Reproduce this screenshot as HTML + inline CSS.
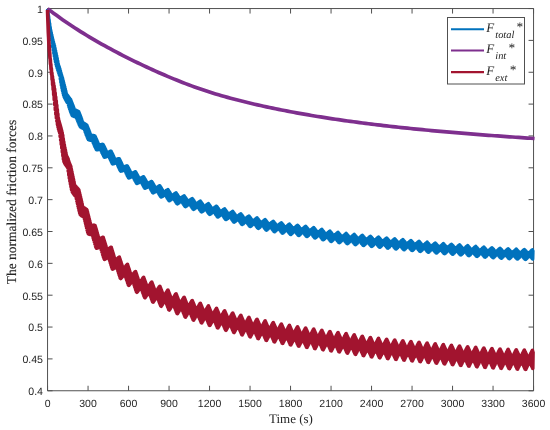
<!DOCTYPE html><html><head><meta charset="utf-8"><title>The normalized friction forces</title><style>html,body{margin:0;padding:0;background:#fff}svg{display:block}text{font-family:"Liberation Sans",Arial,sans-serif;fill:#262626;text-rendering:geometricPrecision}.s{font-family:"Liberation Serif","Times New Roman",serif}</style></head><body>
<svg width="550" height="430" viewBox="0 0 550 430">
<rect width="550" height="430" fill="#fff"/>
<path d="M47.55 8.55 H533.55 V390.75 H47.55 Z M47.55 390.75 v-5.0 M47.55 8.55 v5.0 M88.05 390.75 v-5.0 M88.05 8.55 v5.0 M128.55 390.75 v-5.0 M128.55 8.55 v5.0 M169.05 390.75 v-5.0 M169.05 8.55 v5.0 M209.55 390.75 v-5.0 M209.55 8.55 v5.0 M250.05 390.75 v-5.0 M250.05 8.55 v5.0 M290.55 390.75 v-5.0 M290.55 8.55 v5.0 M331.05 390.75 v-5.0 M331.05 8.55 v5.0 M371.55 390.75 v-5.0 M371.55 8.55 v5.0 M412.05 390.75 v-5.0 M412.05 8.55 v5.0 M452.55 390.75 v-5.0 M452.55 8.55 v5.0 M493.05 390.75 v-5.0 M493.05 8.55 v5.0 M533.55 390.75 v-5.0 M533.55 8.55 v5.0 M47.55 8.55 h5.0 M533.55 8.55 h-5.0 M47.55 40.40 h5.0 M533.55 40.40 h-5.0 M47.55 72.25 h5.0 M533.55 72.25 h-5.0 M47.55 104.10 h5.0 M533.55 104.10 h-5.0 M47.55 135.95 h5.0 M533.55 135.95 h-5.0 M47.55 167.80 h5.0 M533.55 167.80 h-5.0 M47.55 199.65 h5.0 M533.55 199.65 h-5.0 M47.55 231.50 h5.0 M533.55 231.50 h-5.0 M47.55 263.35 h5.0 M533.55 263.35 h-5.0 M47.55 295.20 h5.0 M533.55 295.20 h-5.0 M47.55 327.05 h5.0 M533.55 327.05 h-5.0 M47.55 358.90 h5.0 M533.55 358.90 h-5.0 M47.55 390.75 h5.0 M533.55 390.75 h-5.0" fill="none" stroke="#505050" stroke-width="1"/>
<text x="47.55" y="407.3" font-size="10.5" text-anchor="middle">0</text>
<text x="88.05" y="407.3" font-size="10.5" text-anchor="middle">300</text>
<text x="128.55" y="407.3" font-size="10.5" text-anchor="middle">600</text>
<text x="169.05" y="407.3" font-size="10.5" text-anchor="middle">900</text>
<text x="209.55" y="407.3" font-size="10.5" text-anchor="middle">1200</text>
<text x="250.05" y="407.3" font-size="10.5" text-anchor="middle">1500</text>
<text x="290.55" y="407.3" font-size="10.5" text-anchor="middle">1800</text>
<text x="331.05" y="407.3" font-size="10.5" text-anchor="middle">2100</text>
<text x="371.55" y="407.3" font-size="10.5" text-anchor="middle">2400</text>
<text x="412.05" y="407.3" font-size="10.5" text-anchor="middle">2700</text>
<text x="452.55" y="407.3" font-size="10.5" text-anchor="middle">3000</text>
<text x="493.05" y="407.3" font-size="10.5" text-anchor="middle">3300</text>
<text x="533.55" y="407.3" font-size="10.5" text-anchor="middle">3600</text>
<text x="43.0" y="12.85" font-size="10.6" text-anchor="end">1</text>
<text x="43.0" y="44.70" font-size="10.6" text-anchor="end">0.95</text>
<text x="43.0" y="76.55" font-size="10.6" text-anchor="end">0.9</text>
<text x="43.0" y="108.40" font-size="10.6" text-anchor="end">0.85</text>
<text x="43.0" y="140.25" font-size="10.6" text-anchor="end">0.8</text>
<text x="43.0" y="172.10" font-size="10.6" text-anchor="end">0.75</text>
<text x="43.0" y="203.95" font-size="10.6" text-anchor="end">0.7</text>
<text x="43.0" y="235.80" font-size="10.6" text-anchor="end">0.65</text>
<text x="43.0" y="267.65" font-size="10.6" text-anchor="end">0.6</text>
<text x="43.0" y="299.50" font-size="10.6" text-anchor="end">0.55</text>
<text x="43.0" y="331.35" font-size="10.6" text-anchor="end">0.5</text>
<text x="43.0" y="363.20" font-size="10.6" text-anchor="end">0.45</text>
<text x="43.0" y="395.05" font-size="10.6" text-anchor="end">0.4</text>
<text class="s" x="290.9" y="423.2" font-size="13" text-anchor="middle">Time (s)</text>
<text class="s" transform="translate(15.7 202) rotate(-90)" font-size="13.5" text-anchor="middle" stroke="#262626" stroke-width="0.15">The normalized friction forces</text>
<path d="M47.55 8.89 L47.82 11.00 L48.09 12.52 L48.36 15.16 L48.63 16.15 L48.90 19.39 L49.17 19.78 L49.44 23.88 L49.71 23.41 L49.98 28.16 L50.25 27.07 L50.52 32.20 L50.79 30.08 L51.06 35.92 L51.33 32.45 L51.60 39.15 L51.87 34.86 L52.14 43.16 L52.41 37.27 L52.68 47.08 L52.95 39.52 L53.22 50.40 L53.49 41.62 L53.76 53.49 L54.03 43.59 L54.30 56.43 L54.57 45.55 L54.84 59.25 L55.11 48.09 L55.38 61.99 L55.65 50.59 L55.92 64.34 L56.19 53.08 L56.46 66.17 L56.73 55.59 L57.00 67.95 L57.27 58.15 L57.54 69.68 L57.81 60.82 L58.08 71.38 L58.35 63.71 L58.62 73.05 L58.89 65.63 L59.16 74.68 L59.43 67.10 L59.70 76.06 L59.97 68.87 L60.24 79.31 L60.51 70.83 L60.78 82.49 L61.05 72.83 L61.32 85.49 L61.59 74.74 L61.86 88.25 L62.13 76.45 L62.40 90.72 L62.67 78.09 L62.94 93.00 L63.21 80.32 L63.48 95.12 L63.75 82.45 L64.02 96.79 L64.29 84.54 L64.56 97.94 L64.83 86.65 L65.10 99.04 L65.37 88.78 L65.64 100.08 L65.91 90.97 L66.18 101.04 L66.45 93.29 L66.72 101.90 L66.99 94.53 L67.26 102.62 L67.53 95.22 L67.80 102.99 L68.07 95.99 L68.34 105.07 L68.61 96.75 L68.88 106.97 L69.15 97.48 L69.42 108.69 L69.69 98.17 L69.96 110.29 L70.23 98.80 L70.50 111.78 L70.77 99.51 L71.04 113.20 L71.31 100.92 L71.58 114.55 L71.85 102.31 L72.12 115.49 L72.39 103.69 L72.66 115.87 L72.93 105.08 L73.20 116.19 L73.47 106.50 L73.74 116.46 L74.01 107.97 L74.28 116.66 L74.55 109.62 L74.82 116.78 L75.09 110.15 L75.36 116.78 L75.63 110.13 L75.90 116.47 L76.17 110.25 L76.44 118.03 L76.71 110.43 L76.98 119.47 L77.25 110.65 L77.52 120.81 L77.79 110.92 L78.06 122.10 L78.33 111.22 L78.60 123.36 L78.87 111.67 L79.14 124.63 L79.41 112.95 L79.68 125.89 L79.95 114.29 L80.22 126.80 L80.49 115.68 L80.76 127.17 L81.03 117.14 L81.30 127.54 L81.57 118.67 L81.84 127.88 L82.11 120.31 L82.38 128.19 L82.65 122.16 L82.92 128.44 L83.19 122.84 L83.46 128.59 L83.73 122.96 L84.00 128.40 L84.27 123.21 L84.54 130.20 L84.81 123.53 L85.08 131.86 L85.35 123.88 L85.62 133.39 L85.89 124.25 L86.16 134.84 L86.43 124.62 L86.70 136.22 L86.97 125.11 L87.24 137.55 L87.51 126.42 L87.78 138.83 L88.05 127.72 L88.32 139.67 L88.59 129.04 L88.86 139.89 L89.13 130.40 L89.40 140.08 L89.67 131.81 L89.94 140.23 L90.21 133.30 L90.48 140.32 L90.75 135.01 L91.02 140.33 L91.29 135.46 L91.56 140.22 L91.83 135.30 L92.10 139.75 L92.37 135.28 L92.64 141.37 L92.91 135.34 L93.18 142.85 L93.45 135.43 L93.72 144.20 L93.99 135.54 L94.26 145.48 L94.53 135.67 L94.80 146.70 L95.07 135.94 L95.34 147.88 L95.61 137.10 L95.88 149.03 L96.15 138.28 L96.42 149.73 L96.69 139.49 L96.96 149.79 L97.23 140.74 L97.50 149.81 L97.77 142.04 L98.04 149.77 L98.31 143.43 L98.58 149.68 L98.85 145.04 L99.12 149.50 L99.39 145.31 L99.66 149.19 L99.93 144.94 L100.20 148.50 L100.47 144.73 L100.74 150.02 L101.01 144.57 L101.28 151.38 L101.55 144.45 L101.82 152.60 L102.09 144.35 L102.36 153.73 L102.63 144.27 L102.90 154.81 L103.17 144.34 L103.44 155.84 L103.71 145.36 L103.98 156.84 L104.25 146.40 L104.52 157.38 L104.79 147.47 L105.06 157.24 L105.33 148.58 L105.60 157.07 L105.87 149.77 L106.14 156.85 L106.41 151.05 L106.68 156.59 L106.95 152.58 L107.22 156.24 L107.49 152.72 L107.76 155.77 L108.03 152.20 L108.30 154.93 L108.57 151.85 L108.84 156.43 L109.11 151.60 L109.38 157.79 L109.65 151.41 L109.92 159.02 L110.19 151.26 L110.46 160.20 L110.73 151.15 L111.00 161.33 L111.27 151.21 L111.54 162.42 L111.81 152.28 L112.08 163.48 L112.35 153.37 L112.62 164.06 L112.89 154.49 L113.16 163.97 L113.43 155.67 L113.70 163.84 L113.97 156.90 L114.24 163.69 L114.51 158.24 L114.78 163.48 L115.05 159.82 L115.32 163.21 L115.59 159.99 L115.86 162.81 L116.13 159.49 L116.40 162.04 L116.67 159.18 L116.94 163.61 L117.21 158.96 L117.48 165.01 L117.75 158.79 L118.02 166.27 L118.29 158.67 L118.56 167.45 L118.83 158.57 L119.10 168.57 L119.37 158.64 L119.64 169.65 L119.91 159.69 L120.18 170.69 L120.45 160.76 L120.72 171.27 L120.99 161.87 L121.26 171.17 L121.53 163.02 L121.80 171.06 L122.07 164.24 L122.34 170.90 L122.61 165.55 L122.88 170.71 L123.15 167.10 L123.42 170.44 L123.69 167.26 L123.96 170.04 L124.23 166.77 L124.50 169.28 L124.77 166.46 L125.04 170.81 L125.31 166.22 L125.58 172.17 L125.85 166.04 L126.12 173.39 L126.39 165.89 L126.66 174.53 L126.93 165.77 L127.20 175.60 L127.47 165.81 L127.74 176.63 L128.01 166.79 L128.28 177.61 L128.55 167.79 L128.82 178.12 L129.09 168.82 L129.36 177.95 L129.63 169.88 L129.90 177.76 L130.17 170.99 L130.44 177.53 L130.71 172.20 L130.98 177.24 L131.25 173.64 L131.52 176.88 L131.79 173.70 L132.06 176.40 L132.33 173.12 L132.60 175.54 L132.87 172.71 L133.14 176.95 L133.41 172.38 L133.68 178.21 L133.95 172.10 L134.22 179.32 L134.49 171.86 L134.76 180.35 L135.03 171.65 L135.30 181.32 L135.57 171.60 L135.84 182.26 L136.11 172.50 L136.38 183.16 L136.65 173.42 L136.92 183.59 L137.19 174.37 L137.46 183.38 L137.73 175.36 L138.00 183.13 L138.27 176.41 L138.54 182.84 L138.81 177.55 L139.08 182.50 L139.35 178.92 L139.62 182.10 L139.89 178.93 L140.16 181.57 L140.43 178.31 L140.70 180.68 L140.97 177.86 L141.24 182.04 L141.51 177.49 L141.78 183.24 L142.05 177.18 L142.32 184.31 L142.59 176.91 L142.86 185.30 L143.13 176.67 L143.40 186.24 L143.67 176.60 L143.94 187.13 L144.21 177.46 L144.48 188.00 L144.75 178.35 L145.02 188.42 L145.29 179.27 L145.56 188.18 L145.83 180.23 L146.10 187.92 L146.37 181.25 L146.64 187.62 L146.91 182.37 L147.18 187.27 L147.45 183.71 L147.72 186.86 L147.99 183.71 L148.26 186.32 L148.53 183.08 L148.80 185.43 L149.07 182.62 L149.34 186.76 L149.61 182.24 L149.88 187.94 L150.15 181.92 L150.42 188.98 L150.69 181.64 L150.96 189.95 L151.23 181.38 L151.50 190.86 L151.77 181.29 L152.04 191.74 L152.31 182.13 L152.58 192.59 L152.85 182.99 L153.12 192.98 L153.39 183.89 L153.66 192.73 L153.93 184.82 L154.20 192.45 L154.47 185.82 L154.74 192.13 L155.01 186.90 L155.28 191.77 L155.55 188.22 L155.82 191.33 L156.09 188.20 L156.36 190.78 L156.63 187.55 L156.90 189.87 L157.17 187.07 L157.44 191.17 L157.71 186.67 L157.98 192.32 L158.25 186.33 L158.52 193.33 L158.79 186.02 L159.06 194.27 L159.33 185.74 L159.60 195.15 L159.87 185.62 L160.14 196.00 L160.41 186.43 L160.68 196.81 L160.95 187.26 L161.22 197.18 L161.49 188.12 L161.76 196.90 L162.03 189.03 L162.30 196.59 L162.57 189.98 L162.84 196.25 L163.11 191.04 L163.38 195.86 L163.65 192.31 L163.92 195.39 L164.19 192.26 L164.46 194.81 L164.73 191.58 L165.00 193.88 L165.27 191.07 L165.54 195.14 L165.81 190.65 L166.08 196.25 L166.35 190.27 L166.62 197.22 L166.89 189.93 L167.16 198.12 L167.43 189.62 L167.70 198.97 L167.97 189.47 L168.24 199.77 L168.51 190.24 L168.78 200.55 L169.05 191.03 L169.32 200.87 L169.59 191.85 L169.86 200.56 L170.13 192.71 L170.40 200.22 L170.67 193.62 L170.94 199.84 L171.21 194.63 L171.48 199.41 L171.75 195.86 L172.02 198.91 L172.29 195.77 L172.56 198.30 L172.83 195.06 L173.10 197.33 L173.37 194.51 L173.64 198.54 L173.91 194.05 L174.18 199.61 L174.45 193.64 L174.72 200.54 L174.99 193.26 L175.26 201.40 L175.53 192.92 L175.80 202.21 L176.07 192.73 L176.34 202.98 L176.61 193.46 L176.88 203.71 L177.15 194.21 L177.42 204.01 L177.69 195.00 L177.96 203.66 L178.23 195.82 L178.50 203.29 L178.77 196.70 L179.04 202.89 L179.31 197.68 L179.58 202.43 L179.85 198.88 L180.12 201.91 L180.39 198.77 L180.66 201.27 L180.93 198.03 L181.20 200.28 L181.47 197.47 L181.74 201.47 L182.01 196.98 L182.28 202.51 L182.55 196.55 L182.82 203.42 L183.09 196.16 L183.36 204.26 L183.63 195.79 L183.90 205.05 L184.17 195.59 L184.44 205.80 L184.71 196.30 L184.98 206.52 L185.25 197.04 L185.52 206.79 L185.79 197.81 L186.06 206.44 L186.33 198.62 L186.60 206.06 L186.87 199.49 L187.14 205.64 L187.41 200.45 L187.68 205.18 L187.95 201.64 L188.22 204.65 L188.49 201.52 L188.76 204.01 L189.03 200.78 L189.30 203.02 L189.57 200.21 L189.84 204.20 L190.11 199.72 L190.38 205.24 L190.65 199.29 L190.92 206.15 L191.19 198.90 L191.46 206.98 L191.73 198.53 L192.00 207.76 L192.27 198.32 L192.54 208.50 L192.81 199.03 L193.08 209.22 L193.35 199.76 L193.62 209.49 L193.89 200.52 L194.16 209.14 L194.43 201.33 L194.70 208.75 L194.97 202.19 L195.24 208.33 L195.51 203.15 L195.78 207.86 L196.05 204.32 L196.32 207.33 L196.59 204.19 L196.86 206.68 L197.13 203.45 L197.40 205.68 L197.67 202.87 L197.94 206.85 L198.21 202.38 L198.48 207.87 L198.75 201.93 L199.02 208.77 L199.29 201.53 L199.56 209.59 L199.83 201.16 L200.10 210.36 L200.37 200.94 L200.64 211.09 L200.91 201.64 L201.18 211.80 L201.45 202.36 L201.72 212.06 L201.99 203.11 L202.26 211.70 L202.53 203.90 L202.80 211.31 L203.07 204.76 L203.34 210.88 L203.61 205.71 L203.88 210.41 L204.15 206.87 L204.42 209.87 L204.69 206.74 L204.96 209.22 L205.23 205.99 L205.50 208.21 L205.77 205.41 L206.04 209.38 L206.31 204.92 L206.58 210.40 L206.85 204.47 L207.12 211.28 L207.39 204.07 L207.66 212.10 L207.93 203.69 L208.20 212.87 L208.47 203.47 L208.74 213.60 L209.01 204.17 L209.28 214.30 L209.55 204.88 L209.82 214.56 L210.09 205.63 L210.36 214.20 L210.63 206.43 L210.90 213.81 L211.17 207.28 L211.44 213.38 L211.71 208.23 L211.98 212.92 L212.25 209.40 L212.52 212.38 L212.79 209.27 L213.06 211.74 L213.33 208.53 L213.60 210.74 L213.87 207.95 L214.14 211.91 L214.41 207.46 L214.68 212.93 L214.95 207.02 L215.22 213.82 L215.49 206.62 L215.76 214.64 L216.03 206.26 L216.30 215.41 L216.57 206.04 L216.84 216.14 L217.11 206.74 L217.38 216.85 L217.65 207.46 L217.92 217.12 L218.19 208.22 L218.46 216.76 L218.73 209.02 L219.00 216.38 L219.27 209.87 L219.54 215.96 L219.81 210.82 L220.08 215.50 L220.35 211.99 L220.62 214.97 L220.89 211.87 L221.16 214.33 L221.43 211.13 L221.70 213.34 L221.97 210.56 L222.24 214.51 L222.51 210.07 L222.78 215.53 L223.05 209.64 L223.32 216.42 L223.59 209.24 L223.86 217.24 L224.13 208.88 L224.40 218.01 L224.67 208.67 L224.94 218.74 L225.21 209.36 L225.48 219.45 L225.75 210.08 L226.02 219.71 L226.29 210.84 L226.56 219.36 L226.83 211.63 L227.10 218.97 L227.37 212.48 L227.64 218.56 L227.91 213.43 L228.18 218.09 L228.45 214.59 L228.72 217.56 L228.99 214.46 L229.26 216.92 L229.53 213.73 L229.80 215.93 L230.07 213.15 L230.34 217.09 L230.61 212.66 L230.88 218.10 L231.15 212.22 L231.42 218.99 L231.69 211.82 L231.96 219.80 L232.23 211.45 L232.50 220.56 L232.77 211.24 L233.04 221.28 L233.31 211.92 L233.58 221.98 L233.85 212.64 L234.12 222.24 L234.39 213.38 L234.66 221.88 L234.93 214.16 L235.20 221.49 L235.47 215.00 L235.74 221.06 L236.01 215.94 L236.28 220.59 L236.55 217.09 L236.82 220.05 L237.09 216.95 L237.36 219.40 L237.63 216.21 L237.90 218.40 L238.17 215.62 L238.44 219.55 L238.71 215.12 L238.98 220.55 L239.25 214.67 L239.52 221.42 L239.79 214.26 L240.06 222.21 L240.33 213.88 L240.60 222.96 L240.87 213.65 L241.14 223.67 L241.41 214.32 L241.68 224.35 L241.95 215.02 L242.22 224.60 L242.49 215.75 L242.76 224.22 L243.03 216.51 L243.30 223.81 L243.57 217.34 L243.84 223.37 L244.11 218.25 L244.38 222.89 L244.65 219.39 L244.92 222.33 L245.19 219.23 L245.46 221.67 L245.73 218.47 L246.00 220.65 L246.27 217.87 L246.54 221.78 L246.81 217.35 L247.08 222.76 L247.35 216.89 L247.62 223.60 L247.89 216.46 L248.16 224.38 L248.43 216.05 L248.70 225.11 L248.97 215.81 L249.24 225.80 L249.51 216.46 L249.78 226.45 L250.05 217.13 L250.32 226.68 L250.59 217.83 L250.86 226.28 L251.13 218.58 L251.40 225.86 L251.67 219.38 L251.94 225.40 L252.21 220.28 L252.48 224.89 L252.75 221.39 L253.02 224.32 L253.29 221.22 L253.56 223.64 L253.83 220.44 L254.10 222.61 L254.37 219.83 L254.64 223.72 L254.91 219.30 L255.18 224.68 L255.45 218.82 L255.72 225.52 L255.99 218.37 L256.26 226.28 L256.53 217.96 L256.80 226.99 L257.07 217.70 L257.34 227.67 L257.61 218.34 L257.88 228.32 L258.15 219.00 L258.42 228.53 L258.69 219.70 L258.96 228.13 L259.23 220.43 L259.50 227.69 L259.77 221.23 L260.04 227.23 L260.31 222.11 L260.58 226.72 L260.85 223.21 L261.12 226.14 L261.39 223.04 L261.66 225.45 L261.93 222.25 L262.20 224.41 L262.47 221.63 L262.74 225.51 L263.01 221.09 L263.28 226.46 L263.55 220.60 L263.82 227.28 L264.09 220.15 L264.36 228.04 L264.63 219.73 L264.90 228.74 L265.17 219.46 L265.44 229.41 L265.71 220.09 L265.98 230.05 L266.25 220.75 L266.52 230.25 L266.79 221.43 L267.06 229.84 L267.33 222.16 L267.60 229.40 L267.87 222.94 L268.14 228.92 L268.41 223.81 L268.68 228.40 L268.95 224.91 L269.22 227.82 L269.49 224.72 L269.76 227.12 L270.03 223.93 L270.30 226.08 L270.57 223.30 L270.84 227.16 L271.11 222.75 L271.38 228.11 L271.65 222.25 L271.92 228.92 L272.19 221.80 L272.46 229.66 L272.73 221.37 L273.00 230.36 L273.27 221.09 L273.54 231.01 L273.81 221.71 L274.08 231.64 L274.35 222.35 L274.62 231.84 L274.89 223.03 L275.16 231.42 L275.43 223.74 L275.70 230.97 L275.97 224.52 L276.24 230.49 L276.51 225.38 L276.78 229.96 L277.05 226.46 L277.32 229.37 L277.59 226.27 L277.86 228.66 L278.13 225.47 L278.40 227.61 L278.67 224.83 L278.94 228.69 L279.21 224.27 L279.48 229.62 L279.75 223.77 L280.02 230.42 L280.29 223.31 L280.56 231.15 L280.83 222.87 L281.10 231.84 L281.37 222.58 L281.64 232.48 L281.91 223.19 L282.18 233.10 L282.45 223.83 L282.72 233.29 L282.99 224.49 L283.26 232.86 L283.53 225.20 L283.80 232.41 L284.07 225.96 L284.34 231.92 L284.61 226.81 L284.88 231.38 L285.15 227.88 L285.42 230.78 L285.69 227.68 L285.96 230.07 L286.23 226.87 L286.50 229.01 L286.77 226.23 L287.04 230.07 L287.31 225.66 L287.58 230.99 L287.85 225.15 L288.12 231.79 L288.39 224.68 L288.66 232.51 L288.93 224.23 L289.20 233.18 L289.47 223.94 L289.74 233.82 L290.01 224.54 L290.28 234.43 L290.55 225.16 L290.82 234.61 L291.09 225.82 L291.36 234.17 L291.63 226.51 L291.90 233.70 L292.17 227.26 L292.44 233.20 L292.71 228.10 L292.98 232.65 L293.25 229.15 L293.52 232.03 L293.79 228.93 L294.06 231.30 L294.33 228.11 L294.60 230.23 L294.87 227.45 L295.14 231.28 L295.41 226.87 L295.68 232.18 L295.95 226.34 L296.22 232.95 L296.49 225.84 L296.76 233.65 L297.03 225.38 L297.30 234.31 L297.57 225.07 L297.84 234.92 L298.11 225.65 L298.38 235.51 L298.65 226.25 L298.92 235.67 L299.19 226.89 L299.46 235.22 L299.73 227.56 L300.00 234.74 L300.27 228.30 L300.54 234.22 L300.81 229.12 L301.08 233.66 L301.35 230.16 L301.62 233.04 L301.89 229.94 L302.16 232.30 L302.43 229.11 L302.70 231.23 L302.97 228.45 L303.24 232.27 L303.51 227.86 L303.78 233.17 L304.05 227.33 L304.32 233.94 L304.59 226.84 L304.86 234.64 L305.13 226.38 L305.40 235.30 L305.67 226.08 L305.94 235.92 L306.21 226.67 L306.48 236.52 L306.75 227.28 L307.02 236.69 L307.29 227.92 L307.56 236.25 L307.83 228.61 L308.10 235.78 L308.37 229.36 L308.64 235.29 L308.91 230.20 L309.18 234.74 L309.45 231.26 L309.72 234.14 L309.99 231.05 L310.26 233.43 L310.53 230.25 L310.80 232.38 L311.07 229.62 L311.34 233.45 L311.61 229.06 L311.88 234.38 L312.15 228.57 L312.42 235.18 L312.69 228.11 L312.96 235.92 L313.23 227.69 L313.50 236.61 L313.77 227.42 L314.04 237.27 L314.31 228.04 L314.58 237.91 L314.85 228.70 L315.12 238.12 L315.39 229.38 L315.66 237.72 L315.93 230.11 L316.20 237.29 L316.47 230.89 L316.74 236.83 L317.01 231.78 L317.28 236.33 L317.55 232.87 L317.82 235.77 L318.09 232.70 L318.36 235.10 L318.63 231.94 L318.90 234.08 L319.17 231.33 L319.44 235.18 L319.71 230.81 L319.98 236.13 L320.25 230.34 L320.52 236.96 L320.79 229.91 L321.06 237.72 L321.33 229.51 L321.60 238.43 L321.87 229.25 L322.14 239.11 L322.41 229.89 L322.68 239.75 L322.95 230.55 L323.22 239.97 L323.49 231.24 L323.76 239.57 L324.03 231.97 L324.30 239.15 L324.57 232.76 L324.84 238.69 L325.11 233.64 L325.38 238.19 L325.65 234.73 L325.92 237.62 L326.19 234.55 L326.46 236.94 L326.73 233.78 L327.00 235.91 L327.27 233.16 L327.54 236.99 L327.81 232.62 L328.08 237.92 L328.35 232.13 L328.62 238.73 L328.89 231.67 L329.16 239.46 L329.43 231.24 L329.70 240.14 L329.97 230.96 L330.24 240.79 L330.51 231.56 L330.78 241.40 L331.05 232.19 L331.32 241.58 L331.59 232.84 L331.86 241.15 L332.13 233.53 L332.40 240.69 L332.67 234.28 L332.94 240.19 L333.21 235.12 L333.48 239.65 L333.75 236.18 L334.02 239.05 L334.29 235.97 L334.56 238.33 L334.83 235.16 L335.10 237.28 L335.37 234.51 L335.64 238.32 L335.91 233.94 L336.18 239.23 L336.45 233.43 L336.72 240.01 L336.99 232.95 L337.26 240.72 L337.53 232.50 L337.80 241.38 L338.07 232.20 L338.34 242.00 L338.61 232.78 L338.88 242.60 L339.15 233.39 L339.42 242.77 L339.69 234.03 L339.96 242.32 L340.23 234.71 L340.50 241.85 L340.77 235.45 L341.04 241.35 L341.31 236.28 L341.58 240.80 L341.85 237.33 L342.12 240.19 L342.39 237.10 L342.66 239.46 L342.93 236.29 L343.20 238.40 L343.47 235.63 L343.74 239.43 L344.01 235.05 L344.28 240.33 L344.55 234.53 L344.82 241.10 L345.09 234.04 L345.36 241.80 L345.63 233.58 L345.90 242.45 L346.17 233.27 L346.44 243.06 L346.71 233.85 L346.98 243.65 L347.25 234.45 L347.52 243.81 L347.79 235.08 L348.06 243.36 L348.33 235.75 L348.60 242.88 L348.87 236.48 L349.14 242.37 L349.41 237.30 L349.68 241.81 L349.95 238.34 L350.22 241.19 L350.49 238.11 L350.76 240.46 L351.03 237.29 L351.30 239.39 L351.57 236.62 L351.84 240.42 L352.11 236.04 L352.38 241.31 L352.65 235.51 L352.92 242.07 L353.19 235.01 L353.46 242.76 L353.73 234.55 L354.00 243.41 L354.27 234.24 L354.54 244.01 L354.81 234.81 L355.08 244.60 L355.35 235.40 L355.62 244.75 L355.89 236.03 L356.16 244.30 L356.43 236.70 L356.70 243.81 L356.97 237.42 L357.24 243.30 L357.51 238.24 L357.78 242.74 L358.05 239.27 L358.32 242.12 L358.59 239.03 L358.86 241.38 L359.13 238.21 L359.40 240.31 L359.67 237.54 L359.94 241.33 L360.21 236.96 L360.48 242.22 L360.75 236.42 L361.02 242.98 L361.29 235.93 L361.56 243.66 L361.83 235.46 L362.10 244.31 L362.37 235.14 L362.64 244.91 L362.91 235.71 L363.18 245.49 L363.45 236.31 L363.72 245.64 L363.99 236.93 L364.26 245.19 L364.53 237.59 L364.80 244.70 L365.07 238.32 L365.34 244.19 L365.61 239.13 L365.88 243.63 L366.15 240.16 L366.42 243.01 L366.69 239.93 L366.96 242.27 L367.23 239.10 L367.50 241.20 L367.77 238.44 L368.04 242.22 L368.31 237.85 L368.58 243.11 L368.85 237.32 L369.12 243.87 L369.39 236.82 L369.66 244.56 L369.93 236.36 L370.20 245.20 L370.47 236.04 L370.74 245.80 L371.01 236.61 L371.28 246.38 L371.55 237.21 L371.82 246.54 L372.09 237.83 L372.36 246.08 L372.63 238.50 L372.90 245.60 L373.17 239.22 L373.44 245.09 L373.71 240.03 L373.98 244.53 L374.25 241.06 L374.52 243.91 L374.79 240.83 L375.06 243.17 L375.33 240.00 L375.60 242.10 L375.87 239.34 L376.14 243.12 L376.41 238.75 L376.68 244.01 L376.95 238.22 L377.22 244.76 L377.49 237.73 L377.76 245.45 L378.03 237.26 L378.30 246.09 L378.57 236.94 L378.84 246.69 L379.11 237.51 L379.38 247.27 L379.65 238.10 L379.92 247.42 L380.19 238.72 L380.46 246.96 L380.73 239.38 L381.00 246.48 L381.27 240.10 L381.54 245.96 L381.81 240.91 L382.08 245.40 L382.35 241.94 L382.62 244.78 L382.89 241.70 L383.16 244.04 L383.43 240.88 L383.70 242.97 L383.97 240.21 L384.24 243.99 L384.51 239.62 L384.78 244.87 L385.05 239.09 L385.32 245.62 L385.59 238.59 L385.86 246.30 L386.13 238.12 L386.40 246.94 L386.67 237.80 L386.94 247.54 L387.21 238.37 L387.48 248.11 L387.75 238.95 L388.02 248.26 L388.29 239.57 L388.56 247.80 L388.83 240.23 L389.10 247.32 L389.37 240.95 L389.64 246.80 L389.91 241.76 L390.18 246.24 L390.45 242.78 L390.72 245.61 L390.99 242.54 L391.26 244.88 L391.53 241.71 L391.80 243.80 L392.07 241.05 L392.34 244.82 L392.61 240.46 L392.88 245.70 L393.15 239.92 L393.42 246.45 L393.69 239.42 L393.96 247.13 L394.23 238.95 L394.50 247.76 L394.77 238.64 L395.04 248.36 L395.31 239.20 L395.58 248.94 L395.85 239.78 L396.12 249.08 L396.39 240.40 L396.66 248.62 L396.93 241.06 L397.20 248.14 L397.47 241.77 L397.74 247.62 L398.01 242.58 L398.28 247.06 L398.55 243.60 L398.82 246.43 L399.09 243.36 L399.36 245.70 L399.63 242.54 L399.90 244.62 L400.17 241.87 L400.44 245.64 L400.71 241.28 L400.98 246.52 L401.25 240.74 L401.52 247.26 L401.79 240.25 L402.06 247.94 L402.33 239.78 L402.60 248.58 L402.87 239.46 L403.14 249.18 L403.41 240.02 L403.68 249.75 L403.95 240.61 L404.22 249.90 L404.49 241.22 L404.76 249.44 L405.03 241.88 L405.30 248.95 L405.57 242.59 L405.84 248.43 L406.11 243.40 L406.38 247.87 L406.65 244.42 L406.92 247.25 L407.19 244.18 L407.46 246.51 L407.73 243.36 L408.00 245.44 L408.27 242.69 L408.54 246.46 L408.81 242.10 L409.08 247.33 L409.35 241.57 L409.62 248.08 L409.89 241.07 L410.16 248.76 L410.43 240.60 L410.70 249.39 L410.97 240.28 L411.24 249.99 L411.51 240.85 L411.78 250.57 L412.05 241.43 L412.32 250.71 L412.59 242.05 L412.86 250.26 L413.13 242.71 L413.40 249.78 L413.67 243.42 L413.94 249.26 L414.21 244.23 L414.48 248.70 L414.75 245.25 L415.02 248.08 L415.29 245.02 L415.56 247.35 L415.83 244.19 L416.10 246.28 L416.37 243.53 L416.64 247.29 L416.91 242.95 L417.18 248.17 L417.45 242.41 L417.72 248.92 L417.99 241.92 L418.26 249.61 L418.53 241.45 L418.80 250.24 L419.07 241.14 L419.34 250.84 L419.61 241.70 L419.88 251.41 L420.15 242.29 L420.42 251.56 L420.69 242.91 L420.96 251.11 L421.23 243.57 L421.50 250.63 L421.77 244.28 L422.04 250.11 L422.31 245.09 L422.58 249.56 L422.85 246.11 L423.12 248.93 L423.39 245.88 L423.66 248.20 L423.93 245.05 L424.20 247.13 L424.47 244.39 L424.74 248.15 L425.01 243.81 L425.28 249.02 L425.55 243.27 L425.82 249.77 L426.09 242.78 L426.36 250.45 L426.63 242.31 L426.90 251.09 L427.17 241.99 L427.44 251.68 L427.71 242.55 L427.98 252.25 L428.25 243.14 L428.52 252.40 L428.79 243.75 L429.06 251.94 L429.33 244.41 L429.60 251.46 L429.87 245.12 L430.14 250.94 L430.41 245.92 L430.68 250.38 L430.95 246.94 L431.22 249.76 L431.49 246.70 L431.76 249.02 L432.03 245.88 L432.30 247.95 L432.57 245.21 L432.84 248.96 L433.11 244.62 L433.38 249.83 L433.65 244.08 L433.92 250.58 L434.19 243.58 L434.46 251.25 L434.73 243.11 L435.00 251.88 L435.27 242.79 L435.54 252.47 L435.81 243.34 L436.08 253.03 L436.35 243.92 L436.62 253.17 L436.89 244.53 L437.16 252.71 L437.43 245.18 L437.70 252.22 L437.97 245.88 L438.24 251.70 L438.51 246.67 L438.78 251.13 L439.05 247.68 L439.32 250.50 L439.59 247.44 L439.86 249.75 L440.13 246.60 L440.40 248.68 L440.67 245.93 L440.94 249.67 L441.21 245.33 L441.48 250.53 L441.75 244.79 L442.02 251.27 L442.29 244.28 L442.56 251.93 L442.83 243.79 L443.10 252.54 L443.37 243.46 L443.64 253.12 L443.91 244.01 L444.18 253.68 L444.45 244.57 L444.72 253.81 L444.99 245.17 L445.26 253.33 L445.53 245.81 L445.80 252.84 L446.07 246.50 L446.34 252.30 L446.61 247.28 L446.88 251.73 L447.15 248.28 L447.42 251.09 L447.69 248.03 L447.96 250.34 L448.23 247.19 L448.50 249.25 L448.77 246.51 L449.04 250.25 L449.31 245.91 L449.58 251.10 L449.85 245.36 L450.12 251.83 L450.39 244.85 L450.66 252.49 L450.93 244.36 L451.20 253.11 L451.47 244.03 L451.74 253.69 L452.01 244.58 L452.28 254.24 L452.55 245.15 L452.82 254.38 L453.09 245.75 L453.36 253.91 L453.63 246.39 L453.90 253.41 L454.17 247.09 L454.44 252.89 L454.71 247.88 L454.98 252.32 L455.25 248.88 L455.52 251.69 L455.79 248.64 L456.06 250.95 L456.33 247.81 L456.60 249.88 L456.87 247.14 L457.14 250.88 L457.41 246.54 L457.68 251.74 L457.95 246.00 L458.22 252.48 L458.49 245.50 L458.76 253.14 L459.03 245.03 L459.30 253.77 L459.57 244.71 L459.84 254.36 L460.11 245.26 L460.38 254.92 L460.65 245.83 L460.92 255.06 L461.19 246.44 L461.46 254.60 L461.73 247.09 L462.00 254.11 L462.27 247.79 L462.54 253.59 L462.81 248.59 L463.08 253.03 L463.35 249.60 L463.62 252.41 L463.89 249.36 L464.16 251.67 L464.43 248.53 L464.70 250.60 L464.97 247.87 L465.24 251.61 L465.51 247.28 L465.78 252.47 L466.05 246.75 L466.32 253.21 L466.59 246.25 L466.86 253.89 L467.13 245.78 L467.40 254.51 L467.67 245.46 L467.94 255.10 L468.21 246.02 L468.48 255.67 L468.75 246.59 L469.02 255.81 L469.29 247.20 L469.56 255.35 L469.83 247.85 L470.10 254.87 L470.37 248.56 L470.64 254.35 L470.91 249.35 L471.18 253.79 L471.45 250.36 L471.72 253.17 L471.99 250.13 L472.26 252.44 L472.53 249.30 L472.80 251.37 L473.07 248.64 L473.34 252.37 L473.61 248.05 L473.88 253.24 L474.15 247.52 L474.42 253.98 L474.69 247.02 L474.96 254.65 L475.23 246.55 L475.50 255.27 L475.77 246.23 L476.04 255.86 L476.31 246.79 L476.58 256.43 L476.85 247.36 L477.12 256.57 L477.39 247.97 L477.66 256.11 L477.93 248.61 L478.20 255.62 L478.47 249.32 L478.74 255.11 L479.01 250.11 L479.28 254.54 L479.55 251.11 L479.82 253.92 L480.09 250.88 L480.36 253.18 L480.63 250.05 L480.90 252.11 L481.17 249.38 L481.44 253.11 L481.71 248.79 L481.98 253.97 L482.25 248.26 L482.52 254.71 L482.79 247.75 L483.06 255.37 L483.33 247.28 L483.60 255.99 L483.87 246.96 L484.14 256.57 L484.41 247.50 L484.68 257.13 L484.95 248.07 L485.22 257.27 L485.49 248.67 L485.76 256.80 L486.03 249.31 L486.30 256.31 L486.57 250.01 L486.84 255.79 L487.11 250.79 L487.38 255.22 L487.65 251.79 L487.92 254.59 L488.19 251.54 L488.46 253.85 L488.73 250.71 L489.00 252.77 L489.27 250.04 L489.54 253.76 L489.81 249.44 L490.08 254.61 L490.35 248.89 L490.62 255.34 L490.89 248.38 L491.16 255.99 L491.43 247.90 L491.70 256.60 L491.97 247.57 L492.24 257.17 L492.51 248.11 L492.78 257.72 L493.05 248.67 L493.32 257.85 L493.59 249.26 L493.86 257.37 L494.13 249.89 L494.40 256.87 L494.67 250.57 L494.94 256.34 L495.21 251.35 L495.48 255.76 L495.75 252.34 L496.02 255.13 L496.29 252.08 L496.56 254.38 L496.83 251.24 L497.10 253.29 L497.37 250.56 L497.64 254.28 L497.91 249.96 L498.18 255.12 L498.45 249.41 L498.72 255.84 L498.99 248.90 L499.26 256.49 L499.53 248.41 L499.80 257.10 L500.07 248.07 L500.34 257.67 L500.61 248.61 L500.88 258.21 L501.15 249.16 L501.42 258.33 L501.69 249.75 L501.96 257.86 L502.23 250.38 L502.50 257.36 L502.77 251.06 L503.04 256.82 L503.31 251.83 L503.58 256.25 L503.85 252.82 L504.12 255.60 L504.39 252.56 L504.66 254.85 L504.93 251.72 L505.20 253.77 L505.47 251.04 L505.74 254.75 L506.01 250.44 L506.28 255.59 L506.55 249.88 L506.82 256.31 L507.09 249.37 L507.36 256.96 L507.63 248.88 L507.90 257.56 L508.17 248.54 L508.44 258.12 L508.71 249.07 L508.98 258.66 L509.25 249.63 L509.52 258.78 L509.79 250.21 L510.06 258.31 L510.33 250.83 L510.60 257.80 L510.87 251.51 L511.14 257.27 L511.41 252.28 L511.68 256.69 L511.95 253.26 L512.22 256.04 L512.49 253.00 L512.76 255.29 L513.03 252.16 L513.30 254.20 L513.57 251.48 L513.84 255.18 L514.11 250.87 L514.38 256.02 L514.65 250.31 L514.92 256.73 L515.19 249.80 L515.46 257.37 L515.73 249.30 L516.00 257.97 L516.27 248.96 L516.54 258.53 L516.81 249.49 L517.08 259.07 L517.35 250.04 L517.62 259.19 L517.89 250.62 L518.16 258.71 L518.43 251.24 L518.70 258.20 L518.97 251.91 L519.24 257.66 L519.51 252.68 L519.78 257.08 L520.05 253.65 L520.32 256.43 L520.59 253.39 L520.86 255.68 L521.13 252.55 L521.40 254.59 L521.67 251.86 L521.94 255.56 L522.21 251.25 L522.48 256.39 L522.75 250.69 L523.02 257.10 L523.29 250.17 L523.56 257.74 L523.83 249.67 L524.10 258.33 L524.37 249.33 L524.64 258.89 L524.91 249.85 L525.18 259.42 L525.45 250.40 L525.72 259.53 L525.99 250.97 L526.26 259.05 L526.53 251.58 L526.80 258.54 L527.07 252.25 L527.34 257.99 L527.61 253.02 L527.88 257.41 L528.15 253.99 L528.42 256.76 L528.69 253.72 L528.96 256.00 L529.23 252.87 L529.50 254.91 L529.77 252.18 L530.04 255.87 L530.31 251.57 L530.58 256.70 L530.85 251.00 L531.12 257.40 L531.39 250.48 L531.66 258.04 L531.93 249.98 L532.20 258.62 L532.47 249.63 L532.74 259.18 L533.01 250.15" stroke="#0072BD" fill="none" stroke-width="3.30" stroke-linejoin="round" stroke-linecap="butt"/>
<path d="M47.55 8.60 L50.55 10.90 L53.55 13.15 L56.55 15.36 L59.55 17.52 L62.55 19.65 L65.55 21.73 L68.55 23.77 L71.55 25.77 L74.55 27.74 L77.55 29.67 L80.55 31.57 L83.55 33.44 L86.55 35.27 L89.55 37.08 L92.55 38.85 L95.55 40.60 L98.55 42.33 L101.55 44.02 L104.55 45.70 L107.55 47.35 L110.55 48.98 L113.55 50.59 L116.55 52.18 L119.55 53.75 L122.55 55.29 L125.55 56.82 L128.55 58.34 L131.55 59.83 L134.55 61.30 L137.55 62.76 L140.55 64.19 L143.55 65.61 L146.55 67.02 L149.55 68.40 L152.55 69.77 L155.55 71.12 L158.55 72.46 L161.55 73.77 L164.55 75.07 L167.55 76.35 L170.55 77.61 L173.55 78.85 L176.55 80.07 L179.55 81.27 L182.55 82.45 L185.55 83.61 L188.55 84.74 L191.55 85.86 L194.55 86.95 L197.55 88.02 L200.55 89.06 L203.55 90.08 L206.55 91.08 L209.55 92.05 L212.55 93.00 L215.55 93.92 L218.55 94.82 L221.55 95.70 L224.55 96.56 L227.55 97.39 L230.55 98.21 L233.55 99.01 L236.55 99.79 L239.55 100.56 L242.55 101.31 L245.55 102.04 L248.55 102.77 L251.55 103.48 L254.55 104.18 L257.55 104.86 L260.55 105.54 L263.55 106.20 L266.55 106.85 L269.55 107.50 L272.55 108.13 L275.55 108.75 L278.55 109.36 L281.55 109.96 L284.55 110.55 L287.55 111.13 L290.55 111.70 L293.55 112.26 L296.55 112.82 L299.55 113.36 L302.55 113.90 L305.55 114.42 L308.55 114.94 L311.55 115.45 L314.55 115.95 L317.55 116.45 L320.55 116.93 L323.55 117.41 L326.55 117.88 L329.55 118.34 L332.55 118.80 L335.55 119.25 L338.55 119.69 L341.55 120.12 L344.55 120.55 L347.55 120.97 L350.55 121.38 L353.55 121.79 L356.55 122.19 L359.55 122.59 L362.55 122.98 L365.55 123.36 L368.55 123.74 L371.55 124.11 L374.55 124.48 L377.55 124.84 L380.55 125.20 L383.55 125.55 L386.55 125.89 L389.55 126.23 L392.55 126.57 L395.55 126.90 L398.55 127.23 L401.55 127.55 L404.55 127.87 L407.55 128.18 L410.55 128.49 L413.55 128.79 L416.55 129.09 L419.55 129.39 L422.55 129.68 L425.55 129.97 L428.55 130.26 L431.55 130.54 L434.55 130.82 L437.55 131.09 L440.55 131.36 L443.55 131.63 L446.55 131.89 L449.55 132.15 L452.55 132.41 L455.55 132.67 L458.55 132.92 L461.55 133.17 L464.55 133.41 L467.55 133.65 L470.55 133.90 L473.55 134.13 L476.55 134.37 L479.55 134.60 L482.55 134.83 L485.55 135.06 L488.55 135.29 L491.55 135.51 L494.55 135.73 L497.55 135.95 L500.55 136.17 L503.55 136.38 L506.55 136.60 L509.55 136.81 L512.55 137.02 L515.55 137.23 L518.55 137.43 L521.55 137.64 L524.55 137.84 L527.55 138.04 L530.55 138.24 L534.55 138.51" stroke="#7E2F8E" fill="none" stroke-width="3.70" stroke-linejoin="round" stroke-linecap="butt"/>
<path d="M47.55 9.98 L47.82 17.90 L48.09 24.98 L48.36 32.31 L48.63 37.38 L48.90 43.06 L49.17 45.95 L49.44 51.36 L49.71 52.99 L49.98 58.28 L50.25 59.10 L50.52 64.20 L50.79 64.15 L51.06 69.50 L51.33 68.56 L51.60 74.49 L51.87 72.74 L52.14 79.79 L52.41 76.38 L52.68 84.83 L52.95 79.65 L53.22 89.78 L53.49 82.79 L53.76 94.85 L54.03 85.86 L54.30 99.95 L54.57 88.90 L54.84 104.99 L55.11 92.84 L55.38 109.97 L55.65 96.81 L55.92 114.47 L56.19 100.83 L56.46 118.10 L56.73 105.01 L57.00 121.50 L57.27 109.42 L57.54 124.63 L57.81 113.74 L58.08 127.21 L58.35 117.99 L58.62 129.37 L58.89 120.66 L59.16 131.29 L59.43 122.46 L59.70 132.92 L59.97 124.29 L60.24 136.68 L60.51 126.18 L60.78 140.50 L61.05 128.17 L61.32 144.36 L61.59 130.35 L61.86 148.33 L62.13 132.64 L62.40 152.27 L62.67 135.08 L62.94 156.03 L63.21 138.66 L63.48 159.46 L63.75 141.88 L64.02 161.83 L64.29 144.78 L64.56 162.98 L64.83 147.48 L65.10 163.92 L65.37 150.08 L65.64 164.73 L65.91 152.67 L66.18 165.48 L66.45 155.41 L66.72 166.23 L66.99 156.83 L67.26 167.05 L67.53 157.68 L67.80 167.89 L68.07 158.90 L68.34 171.35 L68.61 160.77 L68.88 175.20 L69.15 162.43 L69.42 178.41 L69.69 163.76 L69.96 181.42 L70.23 164.98 L70.50 184.28 L70.77 166.33 L71.04 187.03 L71.31 168.99 L71.58 189.68 L71.85 171.60 L72.12 191.59 L72.39 174.16 L72.66 192.48 L72.93 176.70 L73.20 193.30 L73.47 179.25 L73.74 194.07 L74.01 181.84 L74.28 194.78 L74.55 184.55 L74.82 195.44 L75.09 185.83 L75.36 196.00 L75.63 186.35 L75.90 196.32 L76.17 186.92 L76.44 198.84 L76.71 187.52 L76.98 201.37 L77.25 188.11 L77.52 203.80 L77.79 188.70 L78.06 206.16 L78.33 189.28 L78.60 208.48 L78.87 190.06 L79.14 210.75 L79.41 192.29 L79.68 213.00 L79.95 194.54 L80.22 214.52 L80.49 196.81 L80.76 215.01 L81.03 199.10 L81.30 215.46 L81.57 201.44 L81.84 215.86 L82.11 203.84 L82.38 216.22 L82.65 206.38 L82.92 216.52 L83.19 207.39 L83.46 216.73 L83.73 207.59 L84.00 216.73 L84.27 207.89 L84.54 219.10 L84.81 208.24 L85.08 221.50 L85.35 208.62 L85.62 223.80 L85.89 209.00 L86.16 226.05 L86.43 209.39 L86.70 228.24 L86.97 209.99 L87.24 230.39 L87.51 212.12 L87.78 232.49 L88.05 214.24 L88.32 233.84 L88.59 216.36 L88.86 234.08 L89.13 218.49 L89.40 234.25 L89.67 220.63 L89.94 234.35 L90.21 222.80 L90.48 234.37 L90.75 225.09 L91.02 234.31 L91.29 225.77 L91.56 234.14 L91.83 225.58 L92.10 233.73 L92.37 225.48 L92.64 235.79 L92.91 225.41 L93.18 237.88 L93.45 225.36 L93.72 239.85 L93.99 225.32 L94.26 241.77 L94.53 225.29 L94.80 243.63 L95.07 225.49 L95.34 245.46 L95.61 227.29 L95.88 247.25 L96.15 229.11 L96.42 248.27 L96.69 230.95 L96.96 248.15 L97.23 232.82 L97.50 247.99 L97.77 234.73 L98.04 247.78 L98.31 236.70 L98.58 247.52 L98.85 238.83 L99.12 247.19 L99.39 239.27 L99.66 246.76 L99.93 238.82 L100.20 246.08 L100.47 238.46 L100.74 247.99 L101.01 238.14 L101.28 249.93 L101.55 237.85 L101.82 251.76 L102.09 237.58 L102.36 253.53 L102.63 237.31 L102.90 255.25 L103.17 237.30 L103.44 256.93 L103.71 238.96 L103.98 258.59 L104.25 240.65 L104.52 259.43 L104.79 242.36 L105.06 259.10 L105.33 244.10 L105.60 258.73 L105.87 245.90 L106.14 258.33 L106.41 247.78 L106.68 257.88 L106.95 249.82 L107.22 257.36 L107.49 250.11 L107.76 256.75 L108.03 249.48 L108.30 255.89 L108.57 248.96 L108.84 257.75 L109.11 248.51 L109.38 259.66 L109.65 248.10 L109.92 261.47 L110.19 247.73 L110.46 263.24 L110.73 247.38 L111.00 264.97 L111.27 247.32 L111.54 266.69 L111.81 249.02 L112.08 268.38 L112.35 250.76 L112.62 269.25 L112.89 252.53 L113.16 268.90 L113.43 254.34 L113.70 268.52 L113.97 256.21 L114.24 268.10 L114.51 258.15 L114.78 267.63 L115.05 260.27 L115.32 267.09 L115.59 260.57 L115.86 266.44 L116.13 259.89 L116.40 265.53 L116.67 259.32 L116.94 267.43 L117.21 258.81 L117.48 269.36 L117.75 258.32 L118.02 271.18 L118.29 257.85 L118.56 272.92 L118.83 257.39 L119.10 274.61 L119.37 257.19 L119.64 276.25 L119.91 258.81 L120.18 277.85 L120.45 260.43 L120.72 278.56 L120.99 262.07 L121.26 278.00 L121.53 263.74 L121.80 277.39 L122.07 265.46 L122.34 276.73 L122.61 267.25 L122.88 276.01 L123.15 269.21 L123.42 275.21 L123.69 269.28 L123.96 274.31 L124.23 268.34 L124.50 273.13 L124.77 267.53 L125.04 274.88 L125.31 266.77 L125.58 276.67 L125.85 266.06 L126.12 278.36 L126.39 265.38 L126.66 279.99 L126.93 264.73 L127.20 281.58 L127.47 264.38 L127.74 283.15 L128.01 265.92 L128.28 284.69 L128.55 267.51 L128.82 285.35 L129.09 269.14 L129.36 284.70 L129.63 270.82 L129.90 284.03 L130.17 272.56 L130.44 283.33 L130.71 274.38 L130.98 282.59 L131.25 276.37 L131.52 281.79 L131.79 276.43 L132.06 280.90 L132.33 275.46 L132.60 279.74 L132.87 274.63 L133.14 281.58 L133.41 273.88 L133.68 283.46 L133.95 273.17 L134.22 285.22 L134.49 272.50 L134.76 286.91 L135.03 271.86 L135.30 288.54 L135.57 271.52 L135.84 290.13 L136.11 273.07 L136.38 291.69 L136.65 274.65 L136.92 292.34 L137.19 276.25 L137.46 291.67 L137.73 277.88 L138.00 290.97 L138.27 279.55 L138.54 290.22 L138.81 281.29 L139.08 289.42 L139.35 283.20 L139.62 288.54 L139.89 283.17 L140.16 287.56 L140.43 282.10 L140.70 286.31 L140.97 281.17 L141.24 288.02 L141.51 280.30 L141.78 289.76 L142.05 279.48 L142.32 291.39 L142.59 278.69 L142.86 292.94 L143.13 277.92 L143.40 294.43 L143.67 277.46 L143.94 295.89 L144.21 278.88 L144.48 297.31 L144.75 280.32 L145.02 297.82 L145.29 281.78 L145.56 297.04 L145.83 283.28 L146.10 296.23 L146.37 284.83 L146.64 295.38 L146.91 286.46 L147.18 294.49 L147.45 288.26 L147.72 293.53 L147.99 288.14 L148.26 292.48 L148.53 287.01 L148.80 291.17 L149.07 286.02 L149.34 292.80 L149.61 285.10 L149.88 294.48 L150.15 284.23 L150.42 296.04 L150.69 283.40 L150.96 297.53 L151.23 282.59 L151.50 298.98 L151.77 282.08 L152.04 300.39 L152.31 283.45 L152.58 301.76 L152.85 284.85 L153.12 302.25 L153.39 286.27 L153.66 301.44 L153.93 287.73 L154.20 300.60 L154.47 289.25 L154.74 299.73 L155.01 290.84 L155.28 298.82 L155.55 292.60 L155.82 297.85 L156.09 292.46 L156.36 296.77 L156.63 291.32 L156.90 295.44 L157.17 290.30 L157.44 297.05 L157.71 289.36 L157.98 298.69 L158.25 288.46 L158.52 300.22 L158.79 287.61 L159.06 301.68 L159.33 286.78 L159.60 303.10 L159.87 286.25 L160.14 304.48 L160.41 287.59 L160.68 305.83 L160.95 288.96 L161.22 306.28 L161.49 290.35 L161.76 305.46 L162.03 291.79 L162.30 304.61 L162.57 293.27 L162.84 303.72 L163.11 294.84 L163.38 302.79 L163.65 296.58 L163.92 301.80 L164.19 296.42 L164.46 300.71 L164.73 295.26 L165.00 299.37 L165.27 294.23 L165.54 300.95 L165.81 293.28 L166.08 302.57 L166.35 292.37 L166.62 304.08 L166.89 291.50 L167.16 305.52 L167.43 290.66 L167.70 306.92 L167.97 290.12 L168.24 308.28 L168.51 291.44 L168.78 309.61 L169.05 292.79 L169.32 310.05 L169.59 294.17 L169.86 309.22 L170.13 295.59 L170.40 308.36 L170.67 297.06 L170.94 307.47 L171.21 298.61 L171.48 306.53 L171.75 300.34 L172.02 305.54 L172.29 300.17 L172.56 304.44 L172.83 299.00 L173.10 303.10 L173.37 297.97 L173.64 304.67 L173.91 297.01 L174.18 306.27 L174.45 296.10 L174.72 307.77 L174.99 295.22 L175.26 309.20 L175.53 294.38 L175.80 310.58 L176.07 293.83 L176.34 311.93 L176.61 295.14 L176.88 313.25 L177.15 296.48 L177.42 313.69 L177.69 297.84 L177.96 312.85 L178.23 299.25 L178.50 311.98 L178.77 300.70 L179.04 311.08 L179.31 302.24 L179.58 310.13 L179.85 303.95 L180.12 309.13 L180.39 303.77 L180.66 308.02 L180.93 302.59 L181.20 306.67 L181.47 301.55 L181.74 308.22 L182.01 300.57 L182.28 309.81 L182.55 299.65 L182.82 311.28 L183.09 298.76 L183.36 312.70 L183.63 297.90 L183.90 314.06 L184.17 297.34 L184.44 315.39 L184.71 298.63 L184.98 316.68 L185.25 299.95 L185.52 317.10 L185.79 301.29 L186.06 316.24 L186.33 302.67 L186.60 315.36 L186.87 304.10 L187.14 314.44 L187.41 305.61 L187.68 313.48 L187.95 307.29 L188.22 312.45 L188.49 307.09 L188.76 311.33 L189.03 305.90 L189.30 309.96 L189.57 304.83 L189.84 311.48 L190.11 303.84 L190.38 313.04 L190.65 302.89 L190.92 314.49 L191.19 301.98 L191.46 315.87 L191.73 301.10 L192.00 317.20 L192.27 300.52 L192.54 318.50 L192.81 301.78 L193.08 319.77 L193.35 303.06 L193.62 320.16 L193.89 304.38 L194.16 319.28 L194.43 305.73 L194.70 318.38 L194.97 307.14 L195.24 317.44 L195.51 308.62 L195.78 316.46 L196.05 310.27 L196.32 315.41 L196.59 310.05 L196.86 314.27 L197.13 308.84 L197.40 312.88 L197.67 307.76 L197.94 314.38 L198.21 306.75 L198.48 315.91 L198.75 305.78 L199.02 317.34 L199.29 304.86 L199.56 318.70 L199.83 303.96 L200.10 320.01 L200.37 303.36 L200.64 321.29 L200.91 304.60 L201.18 322.55 L201.45 305.86 L201.72 322.92 L201.99 307.16 L202.26 322.03 L202.53 308.49 L202.80 321.11 L203.07 309.88 L203.34 320.16 L203.61 311.35 L203.88 319.16 L204.15 312.98 L204.42 318.11 L204.69 312.75 L204.96 316.96 L205.23 311.52 L205.50 315.55 L205.77 310.43 L206.04 317.04 L206.31 309.41 L206.58 318.56 L206.85 308.43 L207.12 319.98 L207.39 307.49 L207.66 321.33 L207.93 306.58 L208.20 322.63 L208.47 305.97 L208.74 323.91 L209.01 307.20 L209.28 325.15 L209.55 308.46 L209.82 325.51 L210.09 309.74 L210.36 324.61 L210.63 311.07 L210.90 323.69 L211.17 312.45 L211.44 322.73 L211.71 313.91 L211.98 321.72 L212.25 315.54 L212.52 320.66 L212.79 315.29 L213.06 319.50 L213.33 314.06 L213.60 318.08 L213.87 312.95 L214.14 319.56 L214.41 311.92 L214.68 321.08 L214.95 310.94 L215.22 322.48 L215.49 309.99 L215.76 323.82 L216.03 309.07 L216.30 325.12 L216.57 308.45 L216.84 326.38 L217.11 309.67 L217.38 327.61 L217.65 310.91 L217.92 327.97 L218.19 312.19 L218.46 327.06 L218.73 313.50 L219.00 326.12 L219.27 314.87 L219.54 325.15 L219.81 316.32 L220.08 324.14 L220.35 317.94 L220.62 323.06 L220.89 317.69 L221.16 321.89 L221.43 316.44 L221.70 320.47 L221.97 315.33 L222.24 321.94 L222.51 314.29 L222.78 323.45 L223.05 313.30 L223.32 324.84 L223.59 312.34 L223.86 326.18 L224.13 311.42 L224.40 327.47 L224.67 310.78 L224.94 328.72 L225.21 312.00 L225.48 329.95 L225.75 313.24 L226.02 330.30 L226.29 314.51 L226.56 329.38 L226.83 315.82 L227.10 328.44 L227.37 317.19 L227.64 327.46 L227.91 318.63 L228.18 326.44 L228.45 320.25 L228.72 325.37 L228.99 319.99 L229.26 324.19 L229.53 318.74 L229.80 322.76 L230.07 317.62 L230.34 324.23 L230.61 316.58 L230.88 325.74 L231.15 315.58 L231.42 327.13 L231.69 314.63 L231.96 328.47 L232.23 313.70 L232.50 329.76 L232.77 313.07 L233.04 331.01 L233.31 314.28 L233.58 332.24 L233.85 315.52 L234.12 332.59 L234.39 316.80 L234.66 331.67 L234.93 318.11 L235.20 330.73 L235.47 319.47 L235.74 329.76 L236.01 320.92 L236.28 328.74 L236.55 322.54 L236.82 327.66 L237.09 322.28 L237.36 326.48 L237.63 321.03 L237.90 325.06 L238.17 319.91 L238.44 326.52 L238.71 318.87 L238.98 328.03 L239.25 317.87 L239.52 329.42 L239.79 316.91 L240.06 330.76 L240.33 315.98 L240.60 332.04 L240.87 315.34 L241.14 333.29 L241.41 316.55 L241.68 334.51 L241.95 317.79 L242.22 334.86 L242.49 319.05 L242.76 333.93 L243.03 320.36 L243.30 332.98 L243.57 321.71 L243.84 332.00 L244.11 323.15 L244.38 330.97 L244.65 324.76 L244.92 329.87 L245.19 324.49 L245.46 328.69 L245.73 323.22 L246.00 327.24 L246.27 322.09 L246.54 328.70 L246.81 321.03 L247.08 330.19 L247.35 320.02 L247.62 331.57 L247.89 319.04 L248.16 332.88 L248.43 318.09 L248.70 334.15 L248.97 317.43 L249.24 335.38 L249.51 318.62 L249.78 336.59 L250.05 319.84 L250.32 336.91 L250.59 321.08 L250.86 335.96 L251.13 322.37 L251.40 334.99 L251.67 323.70 L251.94 333.98 L252.21 325.12 L252.48 332.93 L252.75 326.71 L253.02 331.82 L253.29 326.43 L253.56 330.62 L253.83 325.14 L254.10 329.16 L254.37 323.99 L254.64 330.60 L254.91 322.92 L255.18 332.07 L255.45 321.89 L255.72 333.44 L255.99 320.89 L256.26 334.74 L256.53 319.93 L256.80 336.00 L257.07 319.26 L257.34 337.22 L257.61 320.44 L257.88 338.41 L258.15 321.65 L258.42 338.73 L258.69 322.89 L258.96 337.77 L259.23 324.16 L259.50 336.79 L259.77 325.49 L260.04 335.77 L260.31 326.90 L260.58 334.71 L260.85 328.49 L261.12 333.59 L261.39 328.19 L261.66 332.38 L261.93 326.90 L262.20 330.91 L262.47 325.74 L262.74 332.34 L263.01 324.65 L263.28 333.81 L263.55 323.62 L263.82 335.17 L264.09 322.61 L264.36 336.46 L264.63 321.64 L264.90 337.71 L265.17 320.96 L265.44 338.93 L265.71 322.14 L265.98 340.12 L266.25 323.34 L266.52 340.42 L266.79 324.57 L267.06 339.46 L267.33 325.84 L267.60 338.47 L267.87 327.16 L268.14 337.45 L268.41 328.57 L268.68 336.38 L268.95 330.14 L269.22 335.25 L269.49 329.84 L269.76 334.03 L270.03 328.54 L270.30 332.55 L270.57 327.37 L270.84 333.97 L271.11 326.28 L271.38 335.44 L271.65 325.23 L271.92 336.79 L272.19 324.22 L272.46 338.08 L272.73 323.24 L273.00 339.32 L273.27 322.56 L273.54 340.53 L273.81 323.73 L274.08 341.71 L274.35 324.92 L274.62 342.01 L274.89 326.15 L275.16 341.04 L275.43 327.41 L275.70 340.04 L275.97 328.73 L276.24 339.01 L276.51 330.13 L276.78 337.94 L277.05 331.70 L277.32 336.80 L277.59 331.39 L277.86 335.57 L278.13 330.08 L278.40 334.09 L278.67 328.91 L278.94 335.51 L279.21 327.80 L279.48 336.96 L279.75 326.75 L280.02 338.31 L280.29 325.73 L280.56 339.60 L280.83 324.75 L281.10 340.83 L281.37 324.06 L281.64 342.04 L281.91 325.22 L282.18 343.21 L282.45 326.41 L282.72 343.51 L282.99 327.63 L283.26 342.53 L283.53 328.89 L283.80 341.53 L284.07 330.20 L284.34 340.49 L284.61 331.59 L284.88 339.41 L285.15 333.16 L285.42 338.27 L285.69 332.84 L285.96 337.03 L286.23 331.53 L286.50 335.54 L286.77 330.35 L287.04 336.95 L287.31 329.24 L287.58 338.40 L287.85 328.18 L288.12 339.75 L288.39 327.16 L288.66 341.03 L288.93 326.16 L289.20 342.26 L289.47 325.47 L289.74 343.46 L290.01 326.63 L290.28 344.63 L290.55 327.81 L290.82 344.92 L291.09 329.03 L291.36 343.94 L291.63 330.28 L291.90 342.93 L292.17 331.59 L292.44 341.88 L292.71 332.98 L292.98 340.79 L293.25 334.54 L293.52 339.65 L293.79 334.22 L294.06 338.40 L294.33 332.90 L294.60 336.90 L294.87 331.71 L295.14 338.31 L295.41 330.59 L295.68 339.76 L295.95 329.53 L296.22 341.10 L296.49 328.50 L296.76 342.37 L297.03 327.49 L297.30 343.60 L297.57 326.79 L297.84 344.79 L298.11 327.94 L298.38 345.96 L298.65 329.12 L298.92 346.24 L299.19 330.33 L299.46 345.25 L299.73 331.58 L300.00 344.23 L300.27 332.88 L300.54 343.18 L300.81 334.27 L301.08 342.08 L301.35 335.82 L301.62 340.93 L301.89 335.49 L302.16 339.68 L302.43 334.17 L302.70 338.17 L302.97 332.97 L303.24 339.58 L303.51 331.85 L303.78 341.02 L304.05 330.78 L304.32 342.35 L304.59 329.74 L304.86 343.62 L305.13 328.74 L305.40 344.84 L305.67 328.03 L305.94 346.03 L306.21 329.18 L306.48 347.19 L306.75 330.35 L307.02 347.47 L307.29 331.56 L307.56 346.47 L307.83 332.80 L308.10 345.45 L308.37 334.10 L308.64 344.39 L308.91 335.48 L309.18 343.29 L309.45 337.03 L309.72 342.13 L309.99 336.70 L310.26 340.88 L310.53 335.37 L310.80 339.37 L311.07 334.17 L311.34 340.77 L311.61 333.04 L311.88 342.21 L312.15 331.97 L312.42 343.54 L312.69 330.93 L312.96 344.80 L313.23 329.92 L313.50 346.02 L313.77 329.21 L314.04 347.21 L314.31 330.35 L314.58 348.36 L314.85 331.52 L315.12 348.64 L315.39 332.73 L315.66 347.64 L315.93 333.97 L316.20 346.61 L316.47 335.26 L316.74 345.55 L317.01 336.64 L317.28 344.45 L317.55 338.19 L317.82 343.29 L318.09 337.85 L318.36 342.03 L318.63 336.52 L318.90 340.52 L319.17 335.32 L319.44 341.92 L319.71 334.19 L319.98 343.36 L320.25 333.12 L320.52 344.68 L320.79 332.08 L321.06 345.95 L321.33 331.06 L321.60 347.17 L321.87 330.35 L322.14 348.35 L322.41 331.50 L322.68 349.50 L322.95 332.67 L323.22 349.78 L323.49 333.87 L323.76 348.78 L324.03 335.11 L324.30 347.75 L324.57 336.40 L324.84 346.69 L325.11 337.78 L325.38 345.59 L325.65 339.33 L325.92 344.43 L326.19 338.99 L326.46 343.17 L326.73 337.66 L327.00 341.66 L327.27 336.46 L327.54 343.06 L327.81 335.33 L328.08 344.49 L328.35 334.25 L328.62 345.82 L328.89 333.21 L329.16 347.08 L329.43 332.20 L329.70 348.30 L329.97 331.49 L330.24 349.49 L330.51 332.63 L330.78 350.64 L331.05 333.80 L331.32 350.92 L331.59 335.01 L331.86 349.92 L332.13 336.25 L332.40 348.89 L332.67 337.54 L332.94 347.83 L333.21 338.92 L333.48 346.73 L333.75 340.46 L334.02 345.56 L334.29 340.12 L334.56 344.30 L334.83 338.79 L335.10 342.79 L335.37 337.59 L335.64 344.18 L335.91 336.46 L336.18 345.62 L336.45 335.38 L336.72 346.94 L336.99 334.33 L337.26 348.20 L337.53 333.32 L337.80 349.41 L338.07 332.60 L338.34 350.59 L338.61 333.74 L338.88 351.75 L339.15 334.91 L339.42 352.02 L339.69 336.10 L339.96 351.01 L340.23 337.34 L340.50 349.98 L340.77 338.63 L341.04 348.92 L341.31 340.00 L341.58 347.81 L341.85 341.55 L342.12 346.65 L342.39 341.21 L342.66 345.39 L342.93 339.87 L343.20 343.87 L343.47 338.67 L343.74 345.27 L344.01 337.54 L344.28 346.70 L344.55 336.46 L344.82 348.03 L345.09 335.42 L345.36 349.29 L345.63 334.40 L345.90 350.50 L346.17 333.69 L346.44 351.69 L346.71 334.83 L346.98 352.84 L347.25 336.00 L347.52 353.11 L347.79 337.20 L348.06 352.12 L348.33 338.45 L348.60 351.09 L348.87 339.74 L349.14 350.03 L349.41 341.12 L349.68 348.93 L349.95 342.67 L350.22 347.78 L350.49 342.34 L350.76 346.52 L351.03 341.01 L351.30 345.02 L351.57 339.82 L351.84 346.42 L352.11 338.70 L352.38 347.87 L352.65 337.63 L352.92 349.20 L353.19 336.60 L353.46 350.48 L353.73 335.60 L354.00 351.71 L354.27 334.90 L354.54 352.90 L354.81 336.06 L355.08 354.07 L355.35 337.24 L355.62 354.36 L355.89 338.46 L356.16 353.38 L356.43 339.71 L356.70 352.36 L356.97 341.02 L357.24 351.32 L357.51 342.41 L357.78 350.23 L358.05 343.98 L358.32 349.09 L358.59 343.66 L358.86 347.85 L359.13 342.34 L359.40 346.35 L359.67 341.16 L359.94 347.77 L360.21 340.05 L360.48 349.22 L360.75 338.99 L361.02 350.56 L361.29 337.96 L361.56 351.84 L361.83 336.97 L362.10 353.07 L362.37 336.27 L362.64 354.27 L362.91 337.43 L363.18 355.44 L363.45 338.61 L363.72 355.73 L363.99 339.82 L364.26 354.74 L364.53 341.07 L364.80 353.72 L365.07 342.38 L365.34 352.67 L365.61 343.77 L365.88 351.58 L366.15 345.32 L366.42 350.43 L366.69 344.99 L366.96 349.18 L367.23 343.67 L367.50 347.67 L367.77 342.47 L368.04 349.07 L368.31 341.35 L368.58 350.51 L368.85 340.27 L369.12 351.84 L369.39 339.23 L369.66 353.10 L369.93 338.22 L370.20 354.32 L370.47 337.50 L370.74 355.50 L371.01 338.64 L371.28 356.64 L371.55 339.80 L371.82 356.91 L372.09 341.00 L372.36 355.90 L372.63 342.23 L372.90 354.86 L373.17 343.51 L373.44 353.80 L373.71 344.88 L373.98 352.68 L374.25 346.41 L374.52 351.51 L374.79 346.06 L375.06 350.24 L375.33 344.72 L375.60 348.71 L375.87 343.51 L376.14 350.10 L376.41 342.36 L376.68 351.52 L376.95 341.27 L377.22 352.83 L377.49 340.22 L377.76 354.08 L378.03 339.19 L378.30 355.28 L378.57 338.46 L378.84 356.45 L379.11 339.59 L379.38 357.58 L379.65 340.74 L379.92 357.84 L380.19 341.92 L380.46 356.82 L380.73 343.14 L381.00 355.78 L381.27 344.42 L381.54 354.70 L381.81 345.78 L382.08 353.58 L382.35 347.30 L382.62 352.40 L382.89 346.95 L383.16 351.12 L383.43 345.60 L383.70 349.59 L383.97 344.37 L384.24 350.96 L384.51 343.23 L384.78 352.38 L385.05 342.13 L385.32 353.68 L385.59 341.06 L385.86 354.92 L386.13 340.03 L386.40 356.12 L386.67 339.29 L386.94 357.28 L387.21 340.42 L387.48 358.41 L387.75 341.56 L388.02 358.66 L388.29 342.74 L388.56 357.64 L388.83 343.95 L389.10 356.59 L389.37 345.22 L389.64 355.50 L389.91 346.58 L390.18 354.37 L390.45 348.10 L390.72 353.19 L390.99 347.74 L391.26 351.90 L391.53 346.38 L391.80 350.37 L392.07 345.15 L392.34 351.74 L392.61 344.00 L392.88 353.15 L393.15 342.90 L393.42 354.45 L393.69 341.83 L393.96 355.69 L394.23 340.79 L394.50 356.88 L394.77 340.05 L395.04 358.04 L395.31 341.17 L395.58 359.16 L395.85 342.32 L396.12 359.41 L396.39 343.49 L396.66 358.38 L396.93 344.70 L397.20 357.33 L397.47 345.97 L397.74 356.25 L398.01 347.32 L398.28 355.12 L398.55 348.84 L398.82 353.93 L399.09 348.48 L399.36 352.64 L399.63 347.12 L399.90 351.10 L400.17 345.89 L400.44 352.48 L400.71 344.74 L400.98 353.88 L401.25 343.63 L401.52 355.18 L401.79 342.57 L402.06 356.42 L402.33 341.53 L402.60 357.61 L402.87 340.79 L403.14 358.77 L403.41 341.90 L403.68 359.90 L403.95 343.05 L404.22 360.14 L404.49 344.22 L404.76 359.12 L405.03 345.43 L405.30 358.06 L405.57 346.70 L405.84 356.98 L406.11 348.05 L406.38 355.85 L406.65 349.57 L406.92 354.66 L407.19 349.21 L407.46 353.38 L407.73 347.85 L408.00 351.84 L408.27 346.63 L408.54 353.22 L408.81 345.48 L409.08 354.63 L409.35 344.38 L409.62 355.93 L409.89 343.31 L410.16 357.17 L410.43 342.27 L410.70 358.36 L410.97 341.54 L411.24 359.52 L411.51 342.66 L411.78 360.65 L412.05 343.80 L412.32 360.90 L412.59 344.98 L412.86 359.88 L413.13 346.20 L413.40 358.83 L413.67 347.47 L413.94 357.75 L414.21 348.82 L414.48 356.62 L414.75 350.35 L415.02 355.44 L415.29 349.99 L415.56 354.15 L415.83 348.63 L416.10 352.62 L416.37 347.41 L416.64 354.00 L416.91 346.26 L417.18 355.41 L417.45 345.16 L417.72 356.71 L417.99 344.09 L418.26 357.95 L418.53 343.06 L418.80 359.15 L419.07 342.32 L419.34 360.31 L419.61 343.45 L419.88 361.44 L420.15 344.59 L420.42 361.69 L420.69 345.77 L420.96 360.67 L421.23 346.99 L421.50 359.62 L421.77 348.26 L422.04 358.54 L422.31 349.61 L422.58 357.41 L422.85 351.14 L423.12 356.23 L423.39 350.78 L423.66 354.95 L423.93 349.42 L424.20 353.41 L424.47 348.20 L424.74 354.79 L425.01 347.05 L425.28 356.20 L425.55 345.95 L425.82 357.50 L426.09 344.89 L426.36 358.74 L426.63 343.85 L426.90 359.94 L427.17 343.11 L427.44 361.10 L427.71 344.24 L427.98 362.23 L428.25 345.38 L428.52 362.48 L428.79 346.56 L429.06 361.46 L429.33 347.78 L429.60 360.41 L429.87 349.05 L430.14 359.32 L430.41 350.40 L430.68 358.20 L430.95 351.92 L431.22 357.01 L431.49 351.56 L431.76 355.73 L432.03 350.21 L432.30 354.20 L432.57 348.98 L432.84 355.57 L433.11 347.83 L433.38 356.98 L433.65 346.73 L433.92 358.29 L434.19 345.67 L434.46 359.52 L434.73 344.63 L435.00 360.72 L435.27 343.89 L435.54 361.88 L435.81 345.01 L436.08 363.01 L436.35 346.16 L436.62 363.25 L436.89 347.33 L437.16 362.23 L437.43 348.55 L437.70 361.18 L437.97 349.82 L438.24 360.10 L438.51 351.17 L438.78 358.97 L439.05 352.69 L439.32 357.78 L439.59 352.33 L439.86 356.50 L440.13 350.97 L440.40 354.96 L440.67 349.75 L440.94 356.33 L441.21 348.60 L441.48 357.74 L441.75 347.49 L442.02 359.04 L442.29 346.43 L442.56 360.28 L442.83 345.39 L443.10 361.47 L443.37 344.65 L443.64 362.63 L443.91 345.77 L444.18 363.76 L444.45 346.91 L444.72 364.00 L444.99 348.08 L445.26 362.98 L445.53 349.29 L445.80 361.92 L446.07 350.56 L446.34 360.84 L446.61 351.91 L446.88 359.71 L447.15 353.43 L447.42 358.52 L447.69 353.07 L447.96 357.23 L448.23 351.71 L448.50 355.69 L448.77 350.48 L449.04 357.06 L449.31 349.32 L449.58 358.47 L449.85 348.22 L450.12 359.77 L450.39 347.15 L450.66 361.00 L450.93 346.11 L451.20 362.19 L451.47 345.36 L451.74 363.34 L452.01 346.48 L452.28 364.47 L452.55 347.62 L452.82 364.71 L453.09 348.79 L453.36 363.69 L453.63 350.00 L453.90 362.63 L454.17 351.27 L454.44 361.54 L454.71 352.62 L454.98 360.41 L455.25 354.14 L455.52 359.22 L455.79 353.77 L456.06 357.94 L456.33 352.41 L456.60 356.40 L456.87 351.18 L457.14 357.77 L457.41 350.03 L457.68 359.17 L457.95 348.92 L458.22 360.47 L458.49 347.85 L458.76 361.71 L459.03 346.81 L459.30 362.90 L459.57 346.07 L459.84 364.05 L460.11 347.19 L460.38 365.18 L460.65 348.33 L460.92 365.42 L461.19 349.50 L461.46 364.40 L461.73 350.71 L462.00 363.34 L462.27 351.98 L462.54 362.25 L462.81 353.33 L463.08 361.12 L463.35 354.84 L463.62 359.93 L463.89 354.48 L464.16 358.64 L464.43 353.12 L464.70 357.10 L464.97 351.89 L465.24 358.47 L465.51 350.73 L465.78 359.88 L466.05 349.63 L466.32 361.18 L466.59 348.56 L466.86 362.41 L467.13 347.52 L467.40 363.60 L467.67 346.77 L467.94 364.75 L468.21 347.89 L468.48 365.88 L468.75 349.03 L469.02 366.12 L469.29 350.20 L469.56 365.09 L469.83 351.41 L470.10 364.03 L470.37 352.67 L470.64 362.95 L470.91 354.02 L471.18 361.81 L471.45 355.53 L471.72 360.62 L471.99 355.17 L472.26 359.33 L472.53 353.80 L472.80 357.79 L473.07 352.57 L473.34 359.15 L473.61 351.41 L473.88 360.56 L474.15 350.30 L474.42 361.85 L474.69 349.23 L474.96 363.08 L475.23 348.19 L475.50 364.27 L475.77 347.44 L476.04 365.42 L476.31 348.55 L476.58 366.54 L476.85 349.69 L477.12 366.78 L477.39 350.86 L477.66 365.75 L477.93 352.06 L478.20 364.69 L478.47 353.32 L478.74 363.60 L479.01 354.67 L479.28 362.46 L479.55 356.18 L479.82 361.26 L480.09 355.81 L480.36 359.97 L480.63 354.44 L480.90 358.42 L481.17 353.20 L481.44 359.79 L481.71 352.04 L481.98 361.18 L482.25 350.93 L482.52 362.48 L482.79 349.85 L483.06 363.70 L483.33 348.80 L483.60 364.88 L483.87 348.05 L484.14 366.03 L484.41 349.16 L484.68 367.14 L484.95 350.29 L485.22 367.38 L485.49 351.45 L485.76 366.34 L486.03 352.65 L486.30 365.28 L486.57 353.91 L486.84 364.18 L487.11 355.24 L487.38 363.03 L487.65 356.75 L487.92 361.83 L488.19 356.38 L488.46 360.53 L488.73 355.00 L489.00 358.98 L489.27 353.76 L489.54 360.34 L489.81 352.59 L490.08 361.73 L490.35 351.47 L490.62 363.02 L490.89 350.39 L491.16 364.24 L491.43 349.33 L491.70 365.41 L491.97 348.58 L492.24 366.55 L492.51 349.68 L492.78 367.66 L493.05 350.80 L493.32 367.89 L493.59 351.96 L493.86 366.84 L494.13 353.15 L494.40 365.77 L494.67 354.40 L494.94 364.67 L495.21 355.73 L495.48 363.52 L495.75 357.23 L496.02 362.31 L496.29 356.85 L496.56 361.01 L496.83 355.47 L497.10 359.45 L497.37 354.23 L497.64 360.80 L497.91 353.06 L498.18 362.19 L498.45 351.93 L498.72 363.47 L498.99 350.84 L499.26 364.69 L499.53 349.79 L499.80 365.86 L500.07 349.03 L500.34 367.00 L500.61 350.12 L500.88 368.11 L501.15 351.25 L501.42 368.33 L501.69 352.40 L501.96 367.29 L502.23 353.59 L502.50 366.21 L502.77 354.84 L503.04 365.11 L503.31 356.17 L503.58 363.96 L503.85 357.67 L504.12 362.75 L504.39 357.29 L504.66 361.44 L504.93 355.90 L505.20 359.88 L505.47 354.66 L505.74 361.23 L506.01 353.48 L506.28 362.62 L506.55 352.36 L506.82 363.90 L507.09 351.27 L507.36 365.11 L507.63 350.21 L507.90 366.28 L508.17 349.44 L508.44 367.41 L508.71 350.54 L508.98 368.52 L509.25 351.66 L509.52 368.74 L509.79 352.81 L510.06 367.69 L510.33 354.00 L510.60 366.62 L510.87 355.24 L511.14 365.51 L511.41 356.57 L511.68 364.35 L511.95 358.07 L512.22 363.14 L512.49 357.68 L512.76 361.83 L513.03 356.30 L513.30 360.27 L513.57 355.05 L513.84 361.62 L514.11 353.87 L514.38 363.00 L514.65 352.74 L514.92 364.28 L515.19 351.65 L515.46 365.49 L515.73 350.58 L516.00 366.65 L516.27 349.82 L516.54 367.79 L516.81 350.91 L517.08 368.89 L517.35 352.03 L517.62 369.11 L517.89 353.17 L518.16 368.06 L518.43 354.36 L518.70 366.98 L518.97 355.60 L519.24 365.86 L519.51 356.93 L519.78 364.71 L520.05 358.42 L520.32 363.49 L520.59 358.03 L520.86 362.18 L521.13 356.64 L521.40 360.62 L521.67 355.39 L521.94 361.96 L522.21 354.21 L522.48 363.34 L522.75 353.07 L523.02 364.61 L523.29 351.98 L523.56 365.82 L523.83 350.91 L524.10 366.98 L524.37 350.14 L524.64 368.11 L524.91 351.23 L525.18 369.21 L525.45 352.34 L525.72 369.42 L525.99 353.49 L526.26 368.37 L526.53 354.67 L526.80 367.28 L527.07 355.91 L527.34 366.17 L527.61 357.23 L527.88 365.01 L528.15 358.72 L528.42 363.79 L528.69 358.32 L528.96 362.47 L529.23 356.93 L529.50 360.90 L529.77 355.67 L530.04 362.24 L530.31 354.49 L530.58 363.62 L530.85 353.35 L531.12 364.89 L531.39 352.25 L531.66 366.09 L531.93 351.18 L532.20 367.25 L532.47 350.41 L532.74 368.37 L533.01 351.49" stroke="#A2142F" fill="none" stroke-width="3.70" stroke-linejoin="round" stroke-linecap="butt"/>
<rect x="447.5" y="17.5" width="77" height="66.5" fill="#fff" stroke="#505050" stroke-width="1"/>
<path d="M451 29.2 H484" stroke="#0072BD" stroke-width="2.1" fill="none"/>
<text class="s" x="486.3" y="31.7" font-size="13" font-style="italic" fill="#000">F<tspan font-size="10.4" dx="1.0" dy="6">total</tspan><tspan dy="-6.7" dx="1.8">*</tspan></text>
<path d="M451 50.5 H484" stroke="#7E2F8E" stroke-width="2.1" fill="none"/>
<text class="s" x="486.3" y="53.0" font-size="13" font-style="italic" fill="#000">F<tspan font-size="10.4" dx="1.0" dy="6">int</tspan><tspan dy="-6.7" dx="1.8">*</tspan></text>
<path d="M451 72.1 H484" stroke="#A2142F" stroke-width="2.1" fill="none"/>
<text class="s" x="486.3" y="74.6" font-size="13" font-style="italic" fill="#000">F<tspan font-size="10.4" dx="1.0" dy="6">ext</tspan><tspan dy="-6.7" dx="1.8">*</tspan></text>
</svg></body></html>
